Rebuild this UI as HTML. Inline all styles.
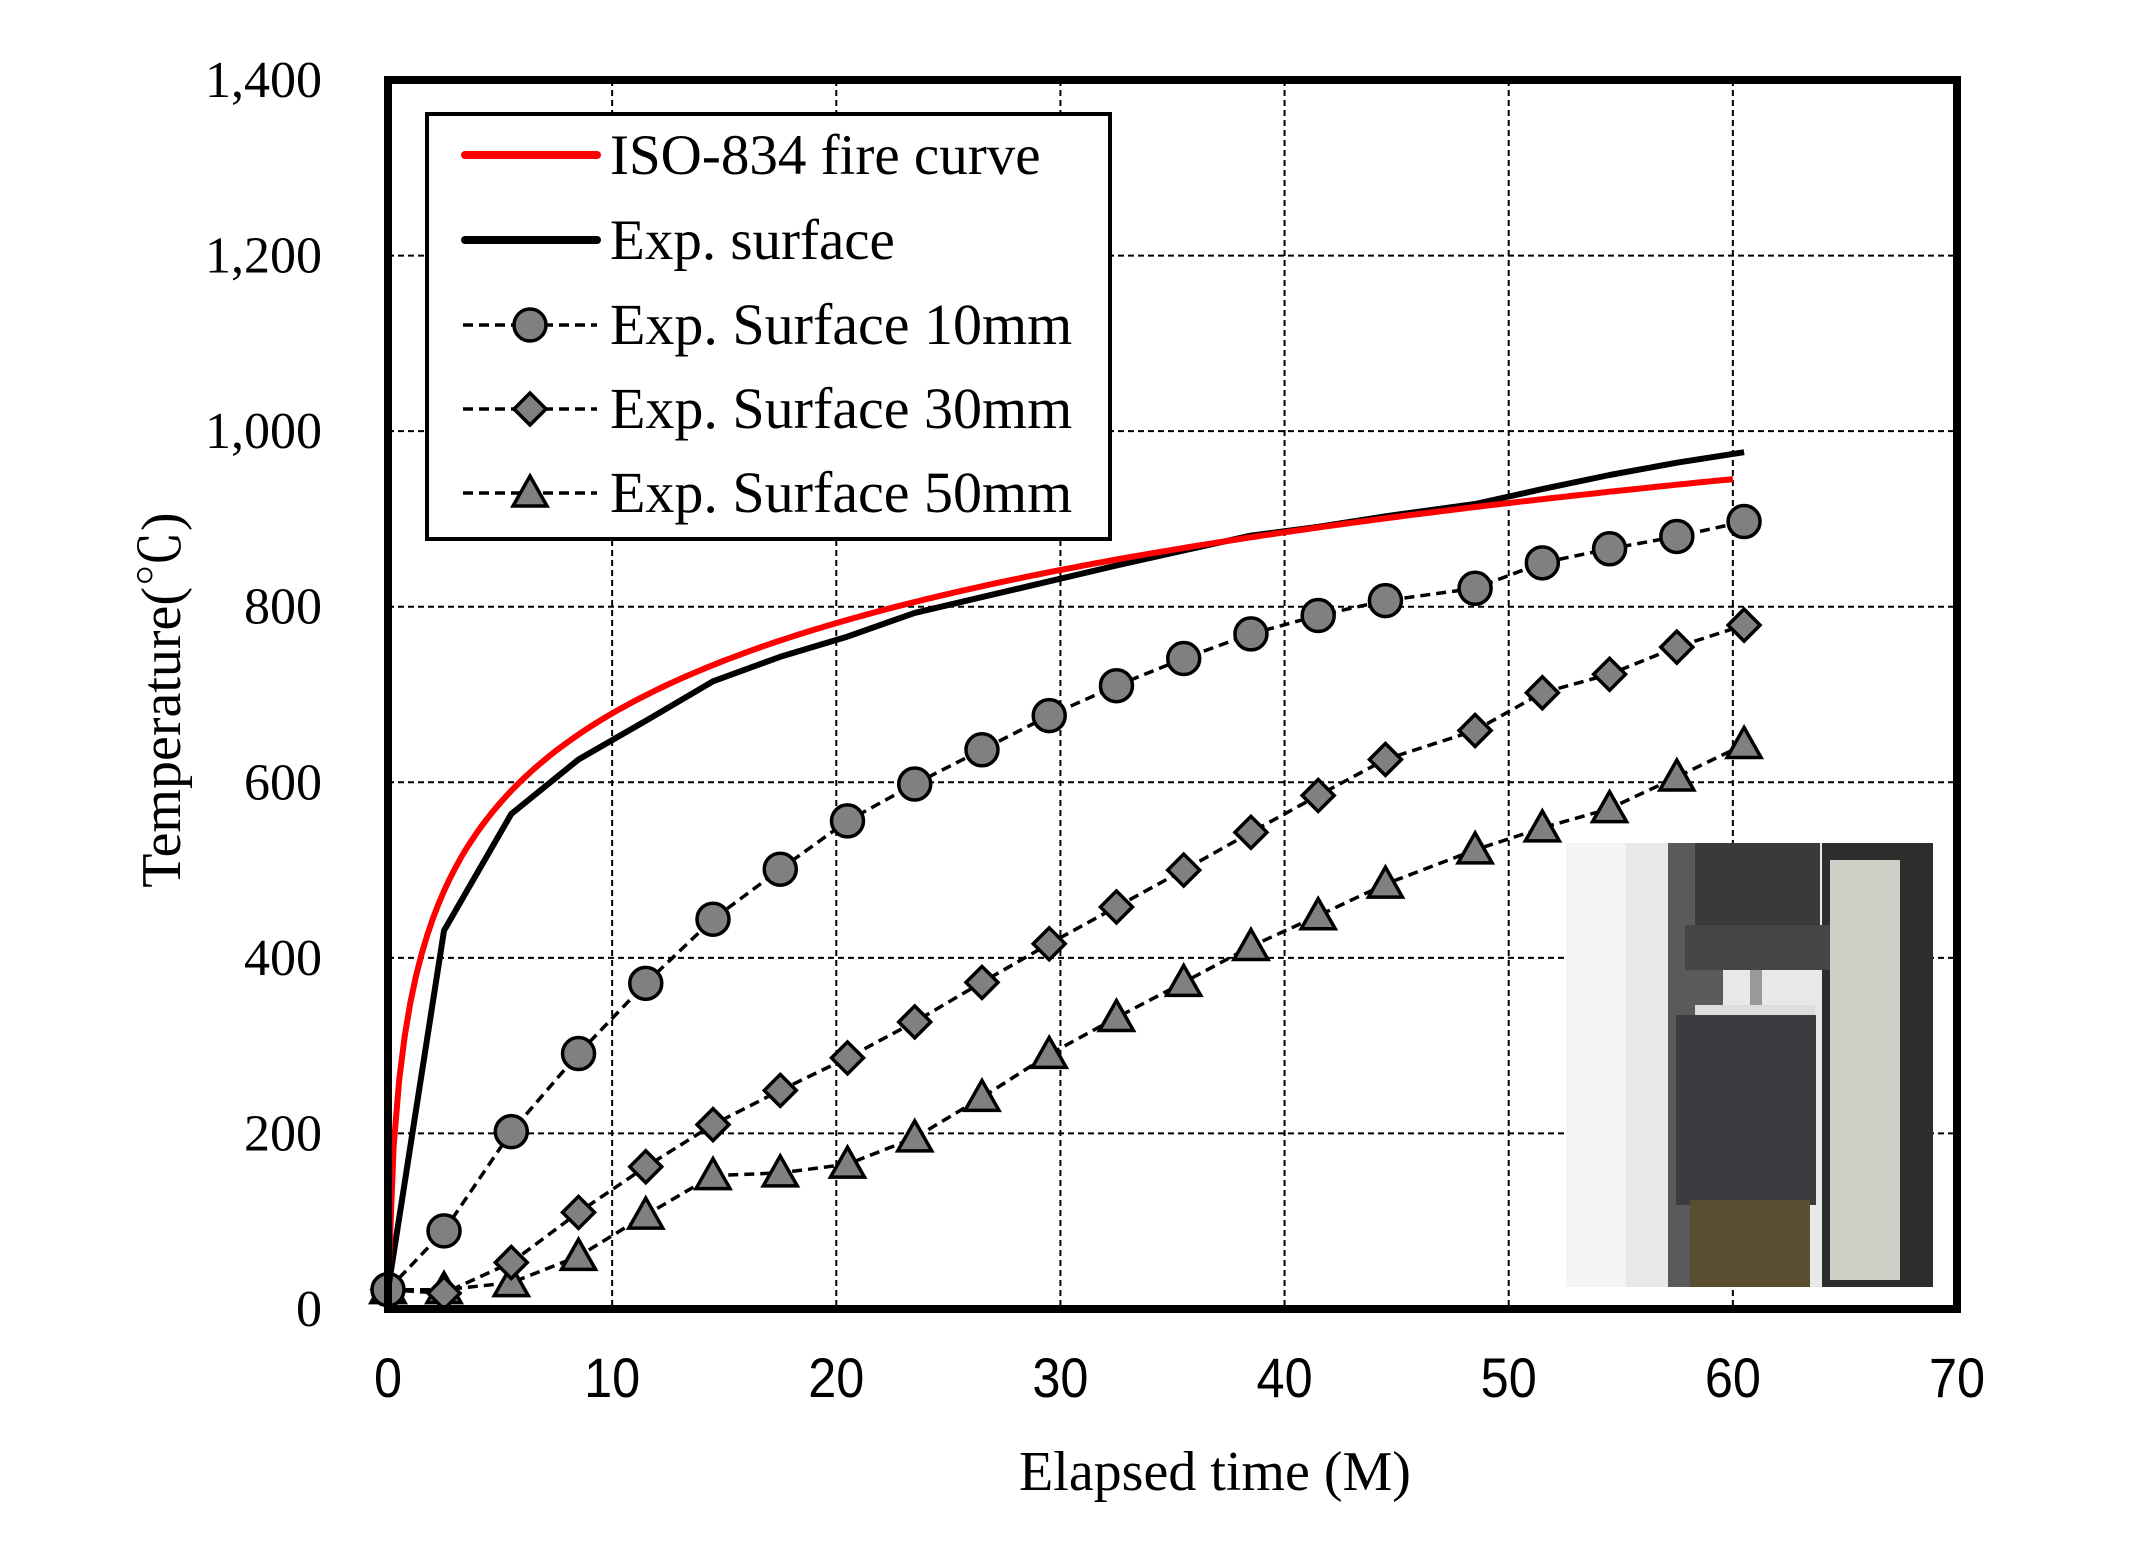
<!DOCTYPE html>
<html><head><meta charset="utf-8"><style>
html,body{margin:0;padding:0;background:#fff;}
svg{display:block;}
</style></head><body>
<svg id="s" width="2144" height="1548" xmlns="http://www.w3.org/2000/svg"></svg>
<script>
const s=document.getElementById('s');
const X0=388,X1=1957,Y0=1309,Y1=80;
const px=t=>X0+(X1-X0)*t/70, py=v=>Y0-(Y0-Y1)*v/1400;
let h='';
for(let i=1;i<7;i++){h+=`<line x1="${px(i*10)}" y1="${Y1}" x2="${px(i*10)}" y2="${Y0}" stroke="#000" stroke-width="2" stroke-dasharray="6,4"/>`;}
for(let i=1;i<7;i++){h+=`<line x1="${X0}" y1="${py(i*200)}" x2="${X1}" y2="${py(i*200)}" stroke="#000" stroke-width="2" stroke-dasharray="6,4"/>`;}
h+=`<rect x="1566" y="843" width="367" height="444" fill="#e8e8e8"/>
<rect x="1566" y="843" width="60" height="444" fill="#f4f4f4"/>
<rect x="1668" y="843" width="55" height="444" fill="#5a5a5a"/>
<rect x="1822" y="843" width="111" height="444" fill="#2e2e2e"/>
<rect x="1830" y="860" width="70" height="420" fill="#d0d0c8"/>
<rect x="1695" y="843" width="125" height="100" fill="#3a3a3a"/>
<rect x="1685" y="925" width="145" height="45" fill="#454545"/>
<rect x="1750" y="970" width="12" height="40" fill="#999"/>
<rect x="1695" y="1005" width="120" height="15" fill="#ddd"/>
<rect x="1676" y="1015" width="140" height="190" fill="#3c3c40"/>
<rect x="1690" y="1200" width="120" height="87" fill="#5a4e30"/>`;
const ts=[0,2.5,5.5,8.5,11.5,14.5,17.5,20.5,23.5,26.5,29.5,32.5,35.5,38.5,41.5,44.5,48.5,51.5,54.5,57.5,60.5];
const s10=[22,89,202,291,371,444,501,556,598,637,676,710,741,769,790,807,821,850,866,880,897];
const s30=[22,18,53,110,162,210,249,286,327,372,416,458,500,543,585,626,659,702,723,754,779];
const s50=[22,22,30,60,107,152,155,165,195,241,290,332,372,413,448,484,523,548,570,606,643];
const blk=[22,431,564,626,670,715,743,766,793,811,829,847,864,881,891,903,917,934,950,964,976];
const pts=(a)=>ts.map((t,i)=>px(t).toFixed(1)+','+py(a[i]).toFixed(1)).join(' ');
let red=[];for(let t=0;t<=60;t+=0.25){red.push(px(t).toFixed(1)+','+py(20+345*Math.log10(8*t+1)).toFixed(1));}
const circ=(x,y)=>`<circle cx="${x}" cy="${y}" r="16" fill="#808080" stroke="#000" stroke-width="3.5"/>`;
const dia=(x,y)=>`<polygon points="${x},${y-16} ${x+16},${y} ${x},${y+16} ${x-16},${y}" fill="#808080" stroke="#000" stroke-width="3.5"/>`;
const tri=(x,y)=>`<polygon points="${x},${y-17} ${x+17},${y+13} ${x-17},${y+13}" fill="#808080" stroke="#000" stroke-width="3.5"/>`;
[[s50,tri],[s30,dia],[s10,circ]].forEach(([a,m])=>{
 h+=`<polyline points="${pts(a)}" fill="none" stroke="#000" stroke-width="3.5" stroke-dasharray="10,6"/>`;
 ts.forEach((t,i)=>h+=m(px(t),py(a[i])));
});
h+=`<polyline points="${pts(blk)}" fill="none" stroke="#000" stroke-width="6" stroke-linejoin="round"/>`;
h+=`<polyline points="${red.join(' ')}" fill="none" stroke="#ff0000" stroke-width="6" stroke-linejoin="round"/>`;
h+=`<rect x="${X0}" y="${Y1}" width="${X1-X0}" height="${Y0-Y1}" fill="none" stroke="#000" stroke-width="8"/>`;
h+=`<rect x="427" y="114" width="683" height="425" fill="#fff" stroke="#000" stroke-width="4"/>`;
const ly=[155,240,325,409,493];
h+=`<line x1="465" y1="${ly[0]}" x2="597" y2="${ly[0]}" stroke="#f00" stroke-width="8" stroke-linecap="round"/>`;
h+=`<line x1="465" y1="${ly[1]}" x2="597" y2="${ly[1]}" stroke="#000" stroke-width="8" stroke-linecap="round"/>`;
[circ,dia,tri].forEach((m,i)=>{const y=ly[i+2];h+=`<line x1="463" y1="${y}" x2="597" y2="${y}" stroke="#000" stroke-width="3.5" stroke-dasharray="10,6"/>`+m(530,y);});
const lt=['ISO-834 fire curve','Exp. surface','Exp. Surface 10mm','Exp. Surface 30mm','Exp. Surface 50mm'];
lt.forEach((t,i)=>h+=`<text x="610" y="${ly[i]+19}" font-family="Liberation Serif,serif" font-size="${i<2?57:58}">${t}</text>`);
['0','200','400','600','800','1,000','1,200','1,400'].forEach((t,i)=>h+=`<text x="322" y="${py(i*200)+17}" text-anchor="end" font-family="Liberation Serif,serif" font-size="52">${t}</text>`);
for(let i=0;i<=7;i++)h+=`<text x="${px(i*10)}" y="1397" text-anchor="middle" font-family="Liberation Sans,sans-serif" font-size="56" transform="translate(${px(i*10)*0.1},0) scale(0.9,1)" >${i*10}</text>`;
h+=`<text x="1215" y="1490" text-anchor="middle" font-family="Liberation Serif,serif" font-size="56">Elapsed time (M)</text>`;
h+=`<text transform="translate(180,700) rotate(-90)" text-anchor="middle" font-family="Liberation Serif,'Noto Serif CJK SC',serif" font-size="56">Temperature(℃)</text>`;
s.innerHTML=h;
</script>
</body></html>
